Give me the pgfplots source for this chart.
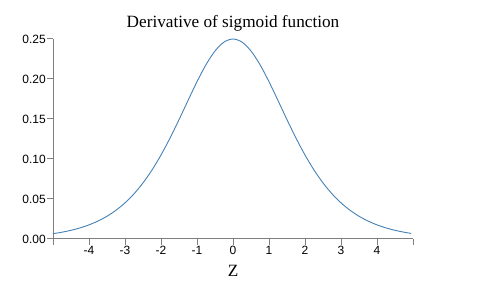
\documentclass[border=0pt]{standalone}
\usepackage{pgfplots}
\pgfplotsset{compat=1.18}
\usepackage{fontspec}
\setmainfont{Liberation Serif}
\setsansfont{Liberation Sans}
\definecolor{curve}{HTML}{4682B4}
\definecolor{axisgray}{HTML}{7F7F7F}
\begin{document}
\begin{tikzpicture}[x=1pt,y=1pt]
\useasboundingbox (0,0) rectangle (479,294);
\begin{axis}[
  at={(53pt,55pt)}, anchor=south west,
  width=360pt, height=200pt, scale only axis,
  xmin=-5, xmax=5, ymin=0, ymax=0.25,
  axis lines=left,
  axis line style={-, draw=axisgray, line width=1pt},
  tick style={draw=axisgray, line width=1pt},
  tick align=outside, major tick length=6pt,
  xtick={-5,-4,-3,-2,-1,0,1,2,3,4,5},
  xticklabels={,-4,-3,-2,-1,0,1,2,3,4,},
  ytick={0,0.05,0.1,0.15,0.2,0.25},
  yticklabels={0.00,0.05,0.10,0.15,0.20,0.25},
  /pgf/number format/assume math mode=true,
  ticklabel style={font=\sffamily\fontsize{12}{14}\selectfont, text=black},
  xticklabel style={inner sep=1pt},
  yticklabel style={inner sep=1pt},
  clip=false,
]
\addplot[curve, line width=0.9pt, smooth] coordinates {
(-5,0.006648) (-4.75,0.008504) (-4.5,0.010866) (-4.25,0.013866) (-4,0.017663)
(-3.75,0.022450) (-3.5,0.028453) (-3.25,0.035934) (-3,0.045177) (-2.75,0.056477)
(-2.5,0.070104) (-2.25,0.086257) (-2,0.104994) (-1.75,0.126129) (-1.5,0.149146)
(-1.25,0.173105) (-1,0.196612) (-0.75,0.217895) (-0.5,0.235004) (-0.25,0.246134)
(0,0.25)
(0.25,0.246134) (0.5,0.235004) (0.75,0.217895) (1,0.196612) (1.25,0.173105)
(1.5,0.149146) (1.75,0.126129) (2,0.104994) (2.25,0.086257) (2.5,0.070104)
(2.75,0.056477) (3,0.045177) (3.25,0.035934) (3.5,0.028453) (3.75,0.022450)
(4,0.017663) (4.25,0.013866) (4.5,0.010866) (4.75,0.008504) (4.95,0.006984)
};
\end{axis}
\node[anchor=base, font=\fontsize{17.2}{20}\selectfont] at (233,266) {Derivative of sigmoid function};
\node[anchor=base, font=\fontsize{17.2}{20}\selectfont] at (233,17) {Z};
\end{tikzpicture}
\end{document}
